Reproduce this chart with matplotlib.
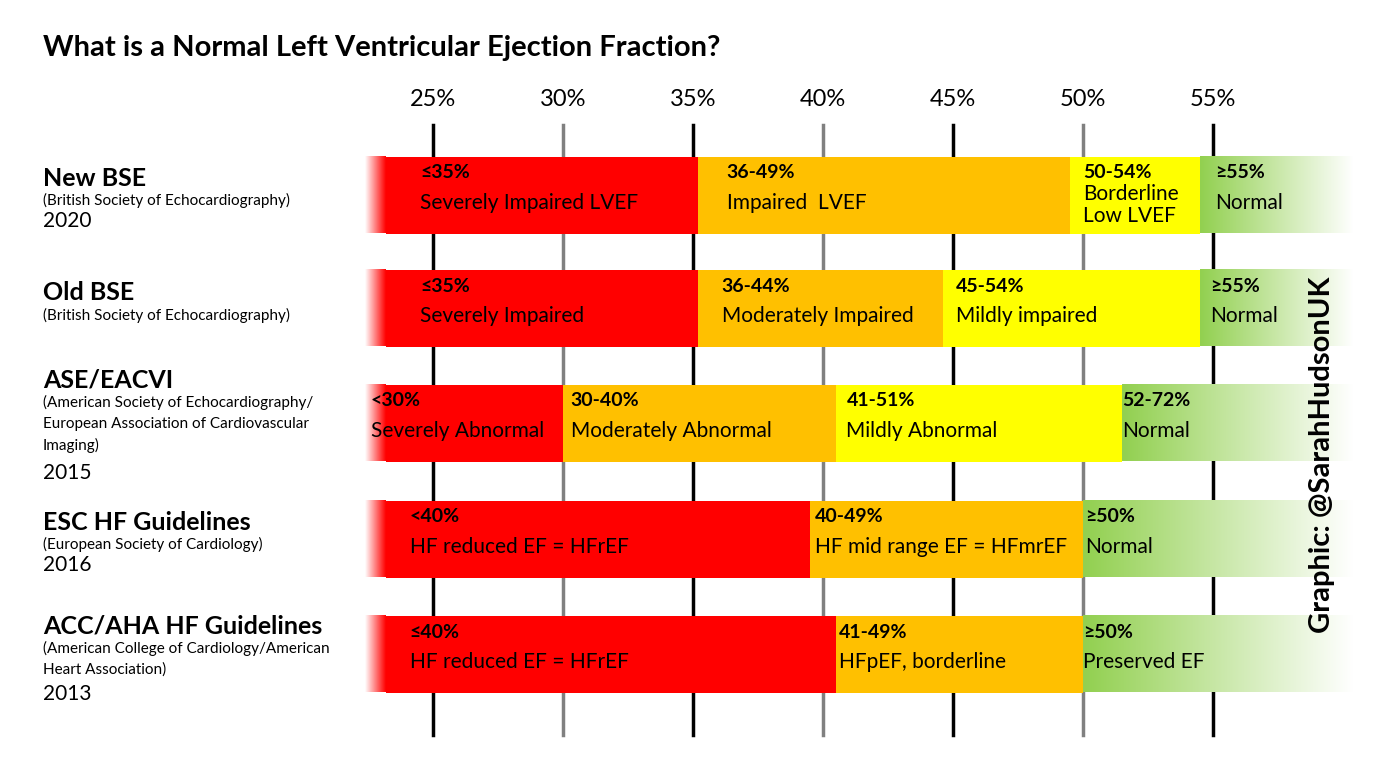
import numpy as np
import matplotlib.pyplot as plt
from matplotlib.colors import to_rgb

plt.rcParams['font.family'] = ['Lato', 'DejaVu Sans']

# data
ticks = [25, 30, 35, 40, 45, 50, 55]
row_names = ["New BSE", "Old BSE", "ASE/EACVI", "ESC HF Guidelines", "ACC/AHA HF Guidelines"]
row_subs = ["(British Society of Echocardiography)",
            "(British Society of Echocardiography)",
            "(American Society of Echocardiography/\nEuropean Association of Cardiovascular\nImaging)",
            "(European Society of Cardiology)",
            "(American College of Cardiology/American\nHeart Association)"]
row_years = ["2020", "", "2015", "2016", "2013"]
start, end = 22.4, 60.4
# segment boundaries (EF %)
bounds = [[35.2, 49.5, 54.5],
          [35.2, 44.6, 54.5],
          [30.0, 40.5, 51.5],
          [39.5, 50.0],
          [40.5, 50.0]]
seg_colors = [["red", "orange", "yellow", "green"],
              ["red", "orange", "yellow", "green"],
              ["red", "orange", "yellow", "green"],
              ["red", "orange", "green"],
              ["red", "orange", "green"]]
seg_pct = [["≤35%", "36-49%", "50-54%", "≥55%"],
           ["≤35%", "36-44%", "45-54%", "≥55%"],
           ["<30%", "30-40%", "41-51%", "52-72%"],
           ["<40%", "40-49%", "≥50%"],
           ["≤40%", "41-49%", "≥50%"]]
seg_text = [["Severely Impaired LVEF", "Impaired  LVEF", "Borderline\nLow LVEF", "Normal"],
            ["Severely Impaired", "Moderately Impaired", "Mildly impaired", "Normal"],
            ["Severely Abnormal", "Moderately Abnormal", "Mildly Abnormal", "Normal"],
            ["HF reduced EF = HFrEF", "HF mid range EF = HFmrEF", "Normal"],
            ["HF reduced EF = HFrEF", "HFpEF, borderline", "Preserved EF"]]
# label x positions (EF %)
lab_x = [[24.5, 36.3, 50.0, 55.1],
         [24.5, 36.1, 45.1, 54.9],
         [22.6, 30.3, 40.9, 51.5],
         [24.1, 39.7, 50.1],
         [24.1, 40.6, 50.0]]

palette = {"red": "#FF0000", "orange": "#FFC000", "yellow": "#FFFF00", "green": "#92D050"}

# layout (pixels)
W, H = 1381, 775
px_per = (1213 - 433) / 30.0
x0 = 25 - 433 / px_per
x1 = 25 + (W - 433) / px_per
row_y = [195, 308, 423, 539, 654]
bar_h = 77

fig = plt.figure(figsize=(W / 100, H / 100), dpi=100)
ax = fig.add_axes([0, 0, 1, 1])
ax.set_xlim(x0, x1)
ax.set_ylim(H, 0)
ax.axis("off")

for i, t in enumerate(ticks):
    ax.plot([t, t], [125, 735], color="black" if i % 2 == 0 else "#808080", lw=2.5, zorder=1)
    ax.text(t, 100, f"{t}%", ha="center", va="center", fontsize=17)

def grad(xa, xb, y, c1, c2):
    a = np.array(to_rgb(c1)); b = np.array(to_rgb(c2))
    s = np.linspace(0, 1, 100)[None, :, None]
    img = a + (b - a) * s
    ax.imshow(img, extent=[xa, xb, y + bar_h / 2, y - bar_h / 2], aspect="auto", zorder=2,
              interpolation="bilinear")

for r, y in enumerate(row_y):
    edges = [start] + bounds[r] + [end]
    for k, c in enumerate(seg_colors[r]):
        xa, xb = edges[k], edges[k + 1]
        col = palette[c]
        if k == 0:
            grad(xa, xa + 0.8, y, "white", col)
            ax.fill_between([xa + 0.8, xb], y - bar_h / 2, y + bar_h / 2, color=col, lw=0, zorder=2)
        elif c == "green":
            grad(xa, xb, y, col, "white")
        else:
            ax.fill_between([xa, xb], y - bar_h / 2, y + bar_h / 2, color=col, lw=0, zorder=2)
        lx = lab_x[r][k]
        two = "\n" in seg_text[r][k]
        ax.text(lx, y - 22, seg_pct[r][k], fontsize=14, fontweight="bold", va="center", zorder=3)
        ax.text(lx, y + (10 if two else 8), seg_text[r][k], fontsize=15, va="center",
                linespacing=1.1, zorder=3)

# row labels
lx = x0 + 43 / px_per
name_y = [178, 293, 380, 522, 626]
for r in range(5):
    ax.text(lx, name_y[r], row_names[r], fontsize=18, fontweight="bold", va="center")
    nsub = row_subs[r].count("\n") + 1
    ax.text(lx, name_y[r] + 15, row_subs[r], fontsize=11, va="top", linespacing=1.6)
    if row_years[r]:
        ax.text(lx, name_y[r] + 18 + nsub * 25, row_years[r], fontsize=15, va="center")

ax.text(x0 + 43 / px_per, 48, "What is a Normal Left Ventricular Ejection Fraction?",
        fontsize=21, fontweight="bold", va="center")
ax.text(x0 + 1322 / px_per, 455, "Graphic: @SarahHudsonUK", rotation=90, fontsize=21,
        fontweight="bold", ha="center", va="center")

fig.savefig("out.png", dpi=100)
